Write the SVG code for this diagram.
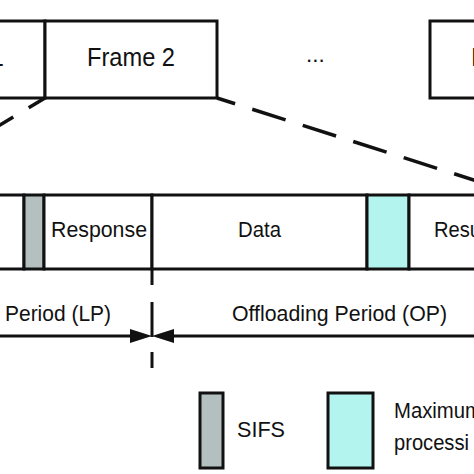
<svg xmlns="http://www.w3.org/2000/svg" width="474" height="474" viewBox="0 0 474 474">
  <style>
    .box { fill: #ffffff; stroke: #111111; stroke-width: 3; }
    .sifs { fill: #b4c0bf; stroke: #111111; stroke-width: 3; }
    .proc { fill: #b3f5ee; stroke: #111111; stroke-width: 3; }
    .lbl { font-family: "Liberation Sans", Arial, sans-serif; font-size: 22.5px; fill: #111111; }
    .big { font-size: 26px; }
    .dash { fill: none; stroke: #111111; stroke-width: 3.5; stroke-dasharray: 35 18; stroke-dashoffset: 16; }
    .line { fill: none; stroke: #111111; stroke-width: 3; }
    .head { fill: #111111; stroke: none; }
  </style>
  <rect width="474" height="474" fill="#ffffff"/>

  <g id="frame-1">
    <rect class="box" x="-130" y="21" width="175" height="77"/>
    <text class="lbl big" x="4" y="66" text-anchor="end">Frame 1</text>
  </g>
  <g id="frame-2">
    <rect class="box" x="45" y="21" width="172" height="77"/>
    <text class="lbl big" x="87" y="66" textLength="88" lengthAdjust="spacingAndGlyphs">Frame 2</text>
  </g>
  <g id="ellipsis">
    <text class="lbl" x="315.5" y="62" text-anchor="middle">...</text>
  </g>
  <g id="frame-n">
    <rect class="box" x="430" y="21" width="120" height="77"/>
    <text class="lbl big" x="471" y="66">F</text>
  </g>

  <g id="connectors">
    <path class="dash" d="M45,98 L-55,158"/>
    <path class="dash" d="M217,98 L530,198"/>
    <path class="line" d="M152,269 V285 M152,302 V337 M152,352 V368"/>
    <path class="line" d="M-10,336 H132"/>
    <polygon class="head" points="130,329 152,336 130,343"/>
    <path class="line" d="M172,336 H480"/>
    <polygon class="head" points="174,329 152,336 174,343"/>
  </g>

  <g id="slot-left">
    <rect class="box" x="-60" y="195" width="84" height="74"/>
  </g>
  <g id="sifs-slot">
    <rect class="sifs" x="24" y="195" width="20" height="74"/>
  </g>
  <g id="response">
    <rect class="box" x="44" y="195" width="108" height="74"/>
    <text class="lbl" x="51" y="237" textLength="96" lengthAdjust="spacingAndGlyphs">Response</text>
  </g>
  <g id="data">
    <rect class="box" x="152" y="195" width="215" height="74"/>
    <text class="lbl" x="238" y="237" textLength="43" lengthAdjust="spacingAndGlyphs">Data</text>
  </g>
  <g id="processing-slot">
    <rect class="proc" x="367" y="195" width="42" height="74"/>
  </g>
  <g id="result">
    <rect class="box" x="409" y="195" width="120" height="74"/>
    <text class="lbl" x="434" y="237" textLength="47" lengthAdjust="spacingAndGlyphs">Resu</text>
  </g>

  <g id="period-labels">
    <text class="lbl" x="5" y="321" textLength="106" lengthAdjust="spacingAndGlyphs">Period (LP)</text>
    <text class="lbl" x="232" y="321" textLength="215" lengthAdjust="spacingAndGlyphs">Offloading Period (OP)</text>
  </g>

  <g id="legend-sifs">
    <rect class="sifs" x="200" y="393" width="23" height="75"/>
    <text class="lbl" x="237" y="437" textLength="48" lengthAdjust="spacingAndGlyphs">SIFS</text>
  </g>
  <g id="legend-processing">
    <rect class="proc" x="328" y="393" width="45" height="75"/>
    <text class="lbl" x="394" y="418" textLength="88" lengthAdjust="spacingAndGlyphs">Maximum</text>
    <text class="lbl" x="394" y="450" textLength="75" lengthAdjust="spacingAndGlyphs">processi</text>
  </g>
</svg>
